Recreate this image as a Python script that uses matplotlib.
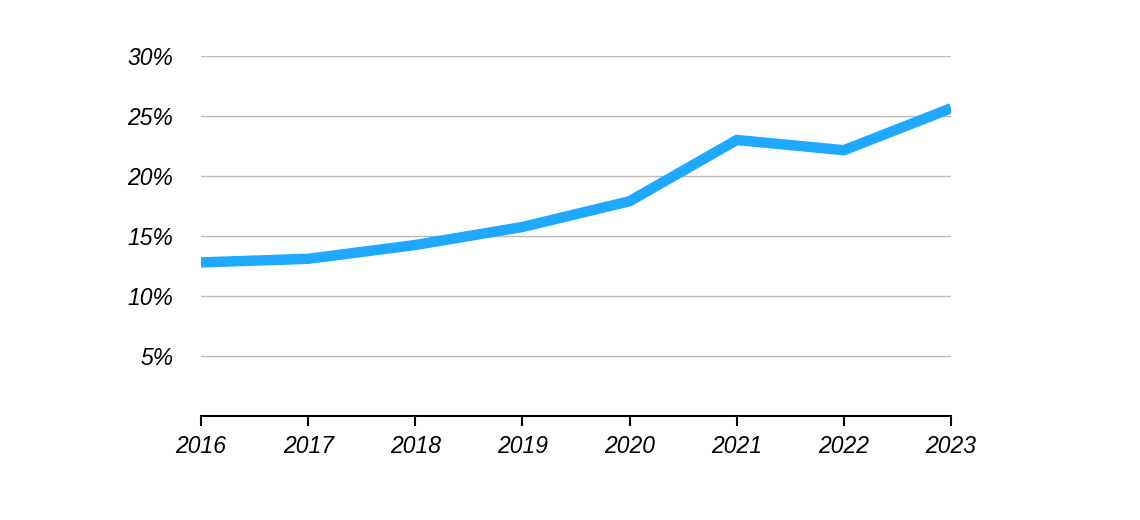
import matplotlib
matplotlib.use("Agg")
import matplotlib.pyplot as plt

years = [2016, 2017, 2018, 2019, 2020, 2021, 2022, 2023]
share = [12.8, 13.1, 14.25, 15.75, 17.9, 23.0, 22.15, 25.65]
yticks = [5, 10, 15, 20, 25, 30]
ytick_labels = ['5%', '10%', '15%', '20%', '25%', '30%']

plt.rcParams['font.family'] = ['Liberation Sans', 'DejaVu Sans']

fig = plt.figure(figsize=(11.4, 5.2), dpi=100)
ax = fig.add_axes([0.1763, 0.2, 0.658, 0.6923])

ax.plot(years, share, color='#1fa8ff', linewidth=7.5, solid_capstyle='butt',
        solid_joinstyle='miter', zorder=3)

ax.set_xlim(2016, 2023)
ax.set_ylim(0, 30)
ax.set_xticks(years)
ax.set_xticklabels([str(y) for y in years], fontstyle='italic', fontsize=16.5)
ax.set_yticks(yticks)
ax.set_yticklabels(ytick_labels, fontstyle='italic', fontsize=16.5)

ax.grid(axis='y', color='#b8b8b8', linewidth=1)
ax.set_axisbelow(True)
for side in ['top', 'right', 'left']:
    ax.spines[side].set_visible(False)
ax.spines['bottom'].set_linewidth(1.5)
ax.tick_params(axis='y', length=0, pad=20)
ax.tick_params(axis='x', length=7, width=1.5, direction='out', pad=7)

fig.savefig('out.png', dpi=100)
